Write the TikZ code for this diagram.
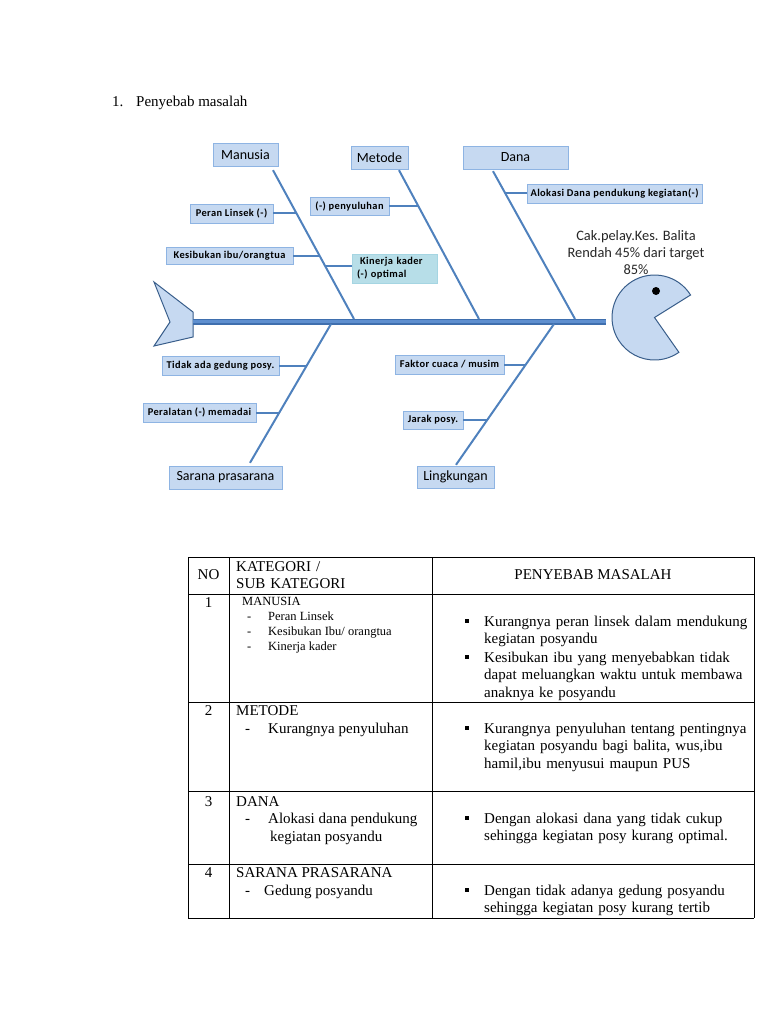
\documentclass[tikz,border=0pt]{standalone}
\usepackage{fontspec}
\setmainfont{Liberation Serif}
\newfontfamily\calibri{Carlito}
\newfontfamily\calibrisp[LetterSpace=4]{Carlito}

\definecolor{boxfill}{HTML}{C6D9F1}
\definecolor{boxline}{HTML}{8EB4E3}
\definecolor{bonecol}{HTML}{4F81BD}
\definecolor{spinedark}{HTML}{3F6FAE}
\definecolor{spinelight}{HTML}{5E8FCF}
\definecolor{kinfill}{HTML}{B7DEE8}
\definecolor{kinline}{HTML}{A5D5E2}
\definecolor{headline}{HTML}{385D8A}
\definecolor{goaltext}{HTML}{262626}

\tikzset{
  catbox/.style={draw=boxline, fill=boxfill, font=\calibri\fontsize{14}{16}\selectfont, minimum height=23pt, inner sep=0pt},
  causebox/.style={draw=boxline, fill=boxfill, font=\calibrisp\bfseries\fontsize{10.4}{13}\selectfont, minimum height=19pt, inner sep=0pt},
  bone/.style={draw=bonecol, line width=2pt},
  tabline/.style={draw=black, line width=0.9pt},
  cell/.style={anchor=base west, inner sep=0pt, font=\fontsize{15}{17.8}\selectfont},
  numcell/.style={anchor=base, inner sep=0pt, font=\fontsize{15}{17.8}\selectfont},
  small/.style={anchor=base west, inner sep=0pt, font=\fontsize{12.5}{15}\selectfont},
  bul/.style={fill=black, minimum size=4pt, inner sep=0pt}
}

\begin{document}
\begin{tikzpicture}[x=1pt, y=-1pt]
    \useasboundingbox (0,0) rectangle (768,1024);

    % Title
    \node[cell] (num) at (112,107) {1.};
    \node[cell] (title) at (136,107) {Penyebab masalah};

    % Tail, spine and head
    \filldraw[fill=boxfill, draw=headline, line width=1pt] (154,282) -- (193,312) -- (193,337) -- (154,346) -- (170,322) -- cycle;
    \coordinate (spL) at (193,321.5);
    \coordinate (spR) at (606,321.5);
    \draw[line width=6pt, spinedark] (spL) -- (spR);
    \draw[line width=2.5pt, spinelight] (spL) -- (spR);
    \filldraw[fill=boxfill, draw=headline, line width=1pt] (654.5,317.5) -- +(32:42.5pt) arc[start angle=32, end angle=305, radius=42.5pt] -- cycle;
    \fill (656,291) circle[radius=4pt];
    \node[font=\calibri\fontsize{14.4}{17}\selectfont, align=center, text=goaltext] (goal) at (636,253) {Cak.pelay.Kes. Balita\\Rendah 45\% dari target\\85\%};

    % Categories
    \node[catbox, minimum width=65pt] (manusia) at (245.5,154.5) {Manusia};
    \node[catbox, minimum width=57pt] (metode) at (379.5,157.5) {Metode};
    \node[catbox, minimum width=105pt] (dana) at (515.5,157.5) {Dana};
    \node[catbox, minimum width=113pt] (sarana) at (225.5,477.5) {Sarana prasarana};
    \node[catbox, minimum width=77pt, minimum height=22pt] (lingk) at (455.5,477) {Lingkungan};

    % Causes
    \node[causebox, minimum width=83pt] (peran) at (231.5,213.5) {Peran Linsek (-)};
    \node[causebox, minimum width=127pt, minimum height=17pt] (sibuk) at (229.5,255.5) {Kesibukan ibu/orangtua};
    \node[causebox, fill=kinfill, draw=kinline, text width=75pt, inner xsep=5pt, minimum height=29pt, align=left] (kinerja) at (394.5,268.5) {\hspace{3pt}Kinerja kader\\(-) optimal};
    \node[causebox, minimum width=79pt, minimum height=18pt] (suluh) at (349.5,206) {(-) penyuluhan};
    \node[causebox, minimum width=175pt] (alokasi) at (614.5,193.5) {Alokasi Dana pendukung kegiatan(-)};
    \node[causebox, minimum width=117pt] (gedung) at (220.5,365.5) {Tidak ada gedung posy.};
    \node[causebox, minimum width=113pt] (alat) at (199.5,412.5) {Peralatan (-) memadai};
    \node[causebox, minimum width=109pt] (cuaca) at (449.5,364.5) {Faktor cuaca / musim};
    \node[causebox, minimum width=60pt, minimum height=18pt] (jarak) at (433,420) {Jarak posy.};

    % Bones
    \coordinate (sMan) at (354,319);
    \coordinate (sMet) at (479,319);
    \coordinate (sDan) at (575,319);
    \coordinate (sSar) at (331,324);
    \coordinate (sLin) at (554,324);
    \draw[bone] ([shift={(27.5,4)}]manusia.south) -- (sMan);
    \draw[bone] ([shift={(19.5,1)}]metode.south) -- (sMet);
    \draw[bone] ([shift={(-22.5,2)}]dana.south) -- (sDan);
    \draw[bone] ([shift={(24.5,-3)}]sarana.north) -- (sSar);
    \draw[bone] ([shift={(0.5,-1)}]lingk.north) -- (sLin);

    % Cause connectors
    \coordinate (bPeran) at (296.6,213.5);
    \coordinate (bSibuk) at (319.5,255.5);
    \coordinate (bKin) at (324.9,265.5);
    \coordinate (bSuluh) at (418.3,206);
    \coordinate (bAlok) at (505.5,193.5);
    \coordinate (bGed) at (306.8,365.5);
    \coordinate (bAlat) at (279.4,412.5);
    \coordinate (bCuaca) at (525.9,364.5);
    \coordinate (bJarak) at (487.3,420);
    \draw[bone] (peran) -- (bPeran);
    \draw[bone] (sibuk) -- (bSibuk);
    \draw[bone] ([yshift=3pt]kinerja.west) -- (bKin);
    \draw[bone] (suluh) -- (bSuluh);
    \draw[bone] (alokasi) -- (bAlok);
    \draw[bone] (gedung) -- (bGed);
    \draw[bone] (alat) -- (bAlat);
    \draw[bone] (cuaca) -- (bCuaca);
    \draw[bone] (jarak) -- (bJarak);

    % Table grid
    \foreach \y in {557,594,702,791,864,918}
        \draw[tabline] (188,\y) -- (754,\y);
    \foreach \x in {188,229,432,754}
        \draw[tabline] (\x,557) -- (\x,918);

    % Header
    \node[numcell] (no) at (208.5,579) {NO};
    \node[cell, text width=190pt, align=left] (kat) at (236,571) {KATEGORI /\\SUB KATEGORI};
    \node[numcell] (penyebab) at (593,579) {PENYEBAB MASALAH};

    % Row 1
    \node[numcell] (n1) at (208.5,607) {1};
    \node[small] (man) at (242,605) {MANUSIA};
    \foreach \y/\t [count=\i] in {620/Peran Linsek, 635/{Kesibukan Ibu/ orangtua}, 650/Kinerja kader} {
        \node[small] (d\i) at (247,\y) {-};
        \node[small] (s\i) at (268,\y) {\t};
    }
    \node[bul] (b1) at (467,621) {};
    \node[cell, text width=265pt, align=left] (p1a) at (484,626) {Kurangnya peran linsek dalam mendukung\\kegiatan posyandu};
    \node[bul] (b2) at (467,657) {};
    \node[cell, text width=265pt, align=left] (p1b) at (484,662) {Kesibukan ibu yang menyebabkan tidak\\dapat meluangkan waktu untuk membawa\\anaknya ke posyandu};

    % Row 2
    \node[numcell] (n2) at (208.5,715) {2};
    \node[cell] (met) at (236,715) {METODE};
    \node[cell] (d4) at (245,733) {-};
    \node[cell] (s4) at (268,733) {Kurangnya penyuluhan};
    \node[bul] (b3) at (467,728) {};
    \node[cell, text width=265pt, align=left] (p2) at (484,733) {Kurangnya penyuluhan tentang pentingnya\\kegiatan posyandu bagi balita, wus,ibu\\hamil,ibu menyusui maupun PUS};

    % Row 3
    \node[numcell] (n3) at (208.5,806) {3};
    \node[cell] (dan) at (236,806) {DANA};
    \node[cell] (d5) at (245,823) {-};
    \node[cell] (s5) at (268,823) {Alokasi dana pendukung};
    \node[cell] (s6) at (270,841) {kegiatan posyandu};
    \node[bul] (b4) at (467,818) {};
    \node[cell, text width=265pt, align=left] (p3) at (484,823) {Dengan alokasi dana yang tidak cukup\\sehingga kegiatan posy kurang optimal.};

    % Row 4
    \node[numcell] (n4) at (208.5,877) {4};
    \node[cell] (sar) at (236,877) {SARANA PRASARANA};
    \node[cell] (d7) at (245,895) {-};
    \node[cell] (s7) at (264,895) {Gedung posyandu};
    \node[bul] (b5) at (467,890) {};
    \node[cell, text width=265pt, align=left] (p4) at (484,895) {Dengan tidak adanya gedung posyandu\\sehingga kegiatan posy kurang tertib};
\end{tikzpicture}
\end{document}
